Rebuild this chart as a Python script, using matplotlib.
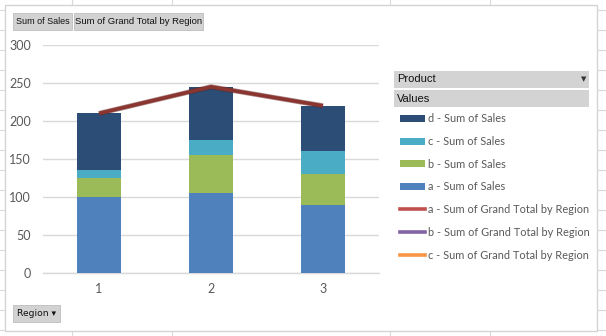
import matplotlib
matplotlib.use("Agg")
import matplotlib.pyplot as plt
from matplotlib.patches import Rectangle, Patch
from matplotlib.lines import Line2D
import numpy as np

# ---- data ----
regions = ["1", "2", "3"]
sales_a = [100, 105, 90]
sales_b = [25, 50, 40]
sales_c = [10, 20, 30]
sales_d = [75, 70, 60]
grand_total_a = [210, 245, 220]
y_ticks = [0, 50, 100, 150, 200, 250, 300]

legend_labels = ["d - Sum of Sales", "c - Sum of Sales", "b - Sum of Sales", "a - Sum of Sales",
                 "a - Sum of Grand Total by Region", "b - Sum of Grand Total by Region",
                 "c - Sum of Grand Total by Region"]

col_a, col_b, col_c, col_d = "#4F81BD", "#9BBB59", "#4BACC6", "#2C4D75"
col_la, col_lb, col_lc = "#C0504D", "#8064A2", "#F79646"

W, H = 606, 336
fig = plt.figure(figsize=(W / 100, H / 100), dpi=100)
fig.patch.set_facecolor("white")

def fx(x):
    return x / W

def fy(y):
    return 1 - y / H

# spreadsheet background gridlines
grid_c = "#DADADA"
for yy in range(10, 336, 20):
    fig.add_artist(Line2D([0, fx(5)], [fy(yy), fy(yy)], color=grid_c, lw=0.8, zorder=-10))
    fig.add_artist(Line2D([fx(597), 1], [fy(yy), fy(yy)], color=grid_c, lw=0.8, zorder=-10))
for xx in [72, 172, 390, 490]:
    fig.add_artist(Line2D([fx(xx), fx(xx)], [1, fy(5)], color=grid_c, lw=0.8, zorder=-10))
    fig.add_artist(Line2D([fx(xx), fx(xx)], [fy(331), 0], color=grid_c, lw=0.8, zorder=-10))

# chart area
fig.add_artist(Rectangle((fx(5), fy(331)), fx(592), 326 / H, transform=fig.transFigure,
                         facecolor="white", edgecolor="#D4D4D4", lw=1.0, zorder=-5))

ax = fig.add_axes([fx(43), fy(273), fx(336), 228 / H])
ax.set_zorder(2)
ax.set_facecolor("none")
x = np.arange(len(regions))
bw = 0.4
b1 = np.array(sales_a)
b2 = b1 + np.array(sales_b)
b3 = b2 + np.array(sales_c)
ax.bar(x, sales_a, bw, color=col_a, zorder=3)
ax.bar(x, sales_b, bw, bottom=b1, color=col_b, zorder=3)
ax.bar(x, sales_c, bw, bottom=b2, color=col_c, zorder=3)
ax.bar(x, sales_d, bw, bottom=b3, color=col_d, zorder=3)
ax.plot(x, grand_total_a, color="#5A1F1B", lw=3.6, zorder=4, alpha=0.5, solid_capstyle="butt")
ax.plot(x, grand_total_a, color="#8B3530", lw=2.6, zorder=5, solid_capstyle="butt")

ax.set_xlim(-0.5, 2.5)
ax.set_ylim(0, 300)
ax.set_yticks(y_ticks)
ax.set_xticks(x)
ax.set_xticklabels(regions)
ax.yaxis.grid(True, color="#D9D9D9", lw=1.0, zorder=0)
ax.set_axisbelow(True)
for s in ["top", "right", "left"]:
    ax.spines[s].set_visible(False)
ax.spines["bottom"].set_color("#D9D9D9")
ax.spines["bottom"].set_linewidth(1.0)
ax.tick_params(length=0, labelsize=9, colors="#595959", labelfontfamily="Lato")
ax.tick_params(axis="y", pad=8.5)
ax.tick_params(axis="x", pad=7)

# field buttons
def button(x0, y0, w, h, label, fs=6.7, family="Liberation Sans"):
    fig.add_artist(Rectangle((fx(x0), fy(y0 + h)), fx(w), h / H, transform=fig.transFigure,
                             facecolor="#D2D2D2", edgecolor="#BEBEBE", lw=0.6, zorder=1))
    fig.text(fx(x0 + w / 2), fy(y0 + h / 2), label, fontsize=fs, family=family,
             va="center", ha="center", color="#111111", zorder=2)

button(13, 13, 59, 17, "Sum of Sales", fs=6.5)
button(74, 13, 129, 17, "Sum of Grand Total by Region", fs=6.8)
button(13, 305, 47, 17, "Region \u25BE", family="DejaVu Sans", fs=6.6)

# legend header bars
for ytop, label in [(71, "Product"), (90, "Values")]:
    fig.add_artist(Rectangle((fx(394), fy(ytop + 17)), fx(195), 17 / H, transform=fig.transFigure,
                             facecolor="#D3D3D3", edgecolor="none", zorder=1))
    fig.text(fx(397), fy(ytop + 8.5), label, fontsize=8, family="Liberation Sans",
             va="center", ha="left", color="#111111", zorder=2)
fig.text(fx(584), fy(79.5), "\u25BC", fontsize=5, family="DejaVu Sans", va="center", ha="center",
         color="#333333", zorder=2)

handles = [Patch(facecolor=col_d), Patch(facecolor=col_c), Patch(facecolor=col_b), Patch(facecolor=col_a),
           Line2D([], [], color=col_la, lw=2.6), Line2D([], [], color=col_lb, lw=2.6),
           Line2D([], [], color=col_lc, lw=2.6)]
leg = fig.legend(handles, legend_labels, loc="upper left", bbox_to_anchor=(fx(398), fy(111)),
                 frameon=False, prop={"family": "Lato", "size": 7.9},
                 handlelength=2.3, handleheight=0.6, handletextpad=0.2,
                 labelspacing=1.07, borderpad=0.2, borderaxespad=0)
for t in leg.get_texts():
    t.set_color("#595959")

fig.savefig("out.png", dpi=100)
